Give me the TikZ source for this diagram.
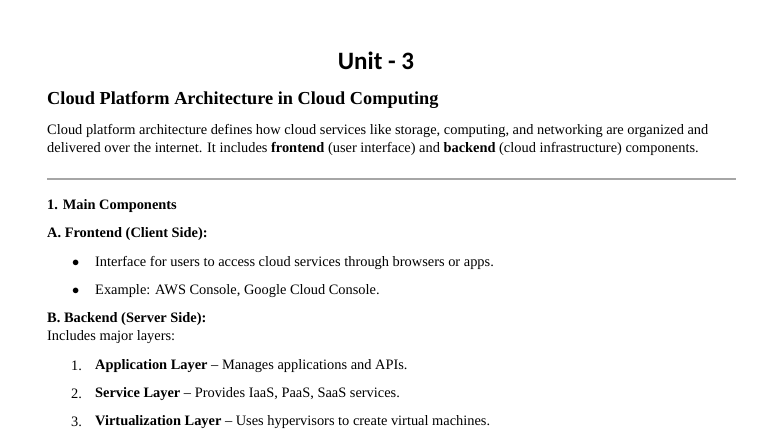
\documentclass[tikz,border=0pt]{standalone}
\usepackage{fontspec}
\setmainfont{Liberation Serif}
\newfontfamily\titlefont{Carlito}
\tikzset{
  body/.style={anchor=west,inner sep=0pt,font=\fontsize{14.4}{16}\selectfont},
  head/.style={body,font=\fontsize{14.4}{16}\selectfont\bfseries},
}
\begin{document}
\begin{tikzpicture}[x=1pt,y=-1pt]
  \useasboundingbox[fill=white] (0,0) rectangle (784,441);
  \node[inner sep=0pt,font=\titlefont\fontsize{25}{30}\selectfont\bfseries] (title) at (376,61) {Unit - 3};
  \node[body,font=\fontsize{18.3}{20}\selectfont\bfseries] (heading) at (47,100) {Cloud Platform Architecture in Cloud Computing};
  \node[body] (par1) at (47,131) {Cloud platform architecture defines how cloud services like storage, computing, and networking are organized and};
  \node[body] (par2) at (47,149) {delivered over the internet. It includes \textbf{frontend} (user interface) and \textbf{backend} (cloud infrastructure) components.};
  \coordinate (rulel) at (47,179);
  \coordinate (ruler) at (736,179);
  \draw[gray!70,line width=1.5pt] (rulel) -- (ruler);
  \node[head] (main) at (47,206) {1. Main Components};
  \node[head] (front) at (47,234) {A. Frontend (Client Side):};
  \foreach \y/\t [count=\i] in {263/Interface for users to access cloud services through browsers or apps.,
                                 291/{Example: AWS Console, Google Cloud Console.}} {
    \node[body] (bul\i) at (72,\y) {$\bullet$};
    \node[body] (fitem\i) at (95,\y) {\t};
  }
  \node[head] (back) at (47,319) {B. Backend (Server Side):};
  \node[body] (incl) at (47,337) {Includes major layers:};
  \node[body] (num1) at (71,366) {1.};
  \node[body] (layer1) at (95,366) {\textbf{Application Layer} -- Manages applications and APIs.};
  \node[body] (num2) at (71,394) {2.};
  \node[body] (layer2) at (95,394) {\textbf{Service Layer} -- Provides IaaS, PaaS, SaaS services.};
  \node[body] (num3) at (71,422) {3.};
  \node[body] (layer3) at (95,422) {\textbf{Virtualization Layer} -- Uses hypervisors to create virtual machines.};
\end{tikzpicture}
\end{document}
